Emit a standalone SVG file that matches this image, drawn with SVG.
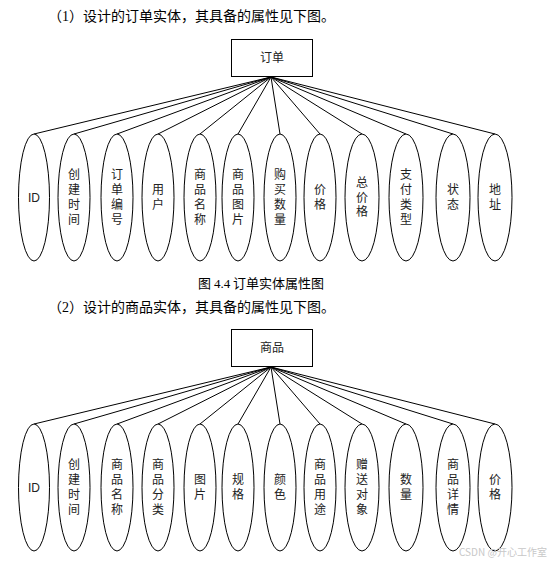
<svg xmlns="http://www.w3.org/2000/svg" width="549" height="564" viewBox="0 0 549 564">
<style>
.bg{fill:#fff}
.box{fill:#fff;stroke:#000;stroke-width:1}
.ell{fill:#fff;stroke:#000;stroke-width:1}
.con line{stroke:#000;stroke-width:1}
.t{font-family:"Liberation Sans","Noto Sans CJK SC",sans-serif;font-size:12px;fill:#222;text-anchor:middle;dominant-baseline:central}
.h{font-family:"Noto Sans CJK SC","Liberation Sans",sans-serif;font-size:14px;fill:#000}
.n{font-family:"Liberation Serif",serif}
.cap{font-family:"Noto Sans CJK SC","Liberation Sans",sans-serif;font-size:13px;fill:#000;text-anchor:middle}
.wm{font-family:"Noto Sans CJK SC","Liberation Sans",sans-serif;font-size:10px;fill:#c8c8c8}
</style>
<rect class="bg" x="0" y="0" width="549" height="564"/>
<text class="h" x="48" y="21">（<tspan class="n">1</tspan>）设计的订单实体，其具备的属性见下图。</text>

<g id="conn1" class="con">
<line x1="271" y1="77" x2="34" y2="134"/>
<line x1="271" y1="77" x2="74" y2="134"/>
<line x1="271" y1="77" x2="117" y2="134"/>
<line x1="271" y1="77" x2="158" y2="134"/>
<line x1="271" y1="77" x2="200" y2="134"/>
<line x1="271" y1="77" x2="238" y2="134"/>
<line x1="271" y1="77" x2="280" y2="134"/>
<line x1="271" y1="77" x2="320" y2="134"/>
<line x1="271" y1="77" x2="362" y2="134"/>
<line x1="271" y1="77" x2="406" y2="134"/>
<line x1="271" y1="77" x2="453" y2="134"/>
<line x1="271" y1="77" x2="495" y2="134"/>
</g>
<g id="order"><rect class="box" x="231.5" y="39.5" width="81" height="37"/><text class="t" x="272" y="58">订单</text></g>
<g id="o-id"><ellipse class="ell" cx="34" cy="197.5" rx="15.5" ry="63.5"/><text class="t" x="34" y="197.5">ID</text></g>
<g id="o-ctime"><ellipse class="ell" cx="74" cy="197.5" rx="16" ry="63.5"/><text class="t" x="74" y="175">创</text><text class="t" x="74" y="190">建</text><text class="t" x="74" y="205">时</text><text class="t" x="74" y="220">间</text></g>
<g id="o-no"><ellipse class="ell" cx="117" cy="197.5" rx="16" ry="63.5"/><text class="t" x="117" y="175">订</text><text class="t" x="117" y="190">单</text><text class="t" x="117" y="205">编</text><text class="t" x="117" y="220">号</text></g>
<g id="o-user"><ellipse class="ell" cx="158" cy="197.5" rx="16" ry="63.5"/><text class="t" x="158" y="190">用</text><text class="t" x="158" y="205">户</text></g>
<g id="o-gname"><ellipse class="ell" cx="200" cy="197.5" rx="16" ry="63.5"/><text class="t" x="200" y="175">商</text><text class="t" x="200" y="190">品</text><text class="t" x="200" y="205">名</text><text class="t" x="200" y="220">称</text></g>
<g id="o-gpic"><ellipse class="ell" cx="238" cy="197.5" rx="16" ry="63.5"/><text class="t" x="238" y="175">商</text><text class="t" x="238" y="190">品</text><text class="t" x="238" y="205">图</text><text class="t" x="238" y="220">片</text></g>
<g id="o-qty"><ellipse class="ell" cx="280" cy="197.5" rx="16" ry="63.5"/><text class="t" x="280" y="175">购</text><text class="t" x="280" y="190">买</text><text class="t" x="280" y="205">数</text><text class="t" x="280" y="220">量</text></g>
<g id="o-price"><ellipse class="ell" cx="320" cy="197.5" rx="16" ry="63.5"/><text class="t" x="320" y="190">价</text><text class="t" x="320" y="205">格</text></g>
<g id="o-total"><ellipse class="ell" cx="362" cy="197.5" rx="17" ry="63.5"/><text class="t" x="362" y="183">总</text><text class="t" x="362" y="197.5">价</text><text class="t" x="362" y="212">格</text></g>
<g id="o-pay"><ellipse class="ell" cx="406" cy="197.5" rx="17" ry="63.5"/><text class="t" x="406" y="175">支</text><text class="t" x="406" y="190">付</text><text class="t" x="406" y="205">类</text><text class="t" x="406" y="220">型</text></g>
<g id="o-state"><ellipse class="ell" cx="453" cy="197.5" rx="17" ry="63.5"/><text class="t" x="453" y="190">状</text><text class="t" x="453" y="205">态</text></g>
<g id="o-addr"><ellipse class="ell" cx="495" cy="197.5" rx="17" ry="63.5"/><text class="t" x="495" y="190">地</text><text class="t" x="495" y="205">址</text></g>

<text class="cap" x="261" y="288">图 <tspan class="n">4.4</tspan> 订单实体属性图</text>
<text class="h" x="48" y="312">（<tspan class="n">2</tspan>）设计的商品实体，其具备的属性见下图。</text>

<g id="conn2" class="con">
<line x1="271" y1="367" x2="34" y2="424"/>
<line x1="271" y1="367" x2="74" y2="424"/>
<line x1="271" y1="367" x2="117" y2="424"/>
<line x1="271" y1="367" x2="158" y2="424"/>
<line x1="271" y1="367" x2="200" y2="424"/>
<line x1="271" y1="367" x2="238" y2="424"/>
<line x1="271" y1="367" x2="280" y2="424"/>
<line x1="271" y1="367" x2="320" y2="424"/>
<line x1="271" y1="367" x2="362" y2="424"/>
<line x1="271" y1="367" x2="406" y2="424"/>
<line x1="271" y1="367" x2="453" y2="424"/>
<line x1="271" y1="367" x2="495" y2="424"/>
</g>
<g id="goods"><rect class="box" x="231.5" y="329.5" width="81" height="37"/><text class="t" x="272" y="348">商品</text></g>
<g id="g-id"><ellipse class="ell" cx="34" cy="487.5" rx="15.5" ry="63.5"/><text class="t" x="34" y="487.5">ID</text></g>
<g id="g-ctime"><ellipse class="ell" cx="74" cy="487.5" rx="16" ry="63.5"/><text class="t" x="74" y="465">创</text><text class="t" x="74" y="480">建</text><text class="t" x="74" y="495">时</text><text class="t" x="74" y="510">间</text></g>
<g id="g-name"><ellipse class="ell" cx="117" cy="487.5" rx="16" ry="63.5"/><text class="t" x="117" y="465">商</text><text class="t" x="117" y="480">品</text><text class="t" x="117" y="495">名</text><text class="t" x="117" y="510">称</text></g>
<g id="g-cat"><ellipse class="ell" cx="158" cy="487.5" rx="16" ry="63.5"/><text class="t" x="158" y="465">商</text><text class="t" x="158" y="480">品</text><text class="t" x="158" y="495">分</text><text class="t" x="158" y="510">类</text></g>
<g id="g-pic"><ellipse class="ell" cx="200" cy="487.5" rx="16" ry="63.5"/><text class="t" x="200" y="480">图</text><text class="t" x="200" y="495">片</text></g>
<g id="g-spec"><ellipse class="ell" cx="238" cy="487.5" rx="16" ry="63.5"/><text class="t" x="238" y="480">规</text><text class="t" x="238" y="495">格</text></g>
<g id="g-color"><ellipse class="ell" cx="280" cy="487.5" rx="16" ry="63.5"/><text class="t" x="280" y="480">颜</text><text class="t" x="280" y="495">色</text></g>
<g id="g-use"><ellipse class="ell" cx="320" cy="487.5" rx="16" ry="63.5"/><text class="t" x="320" y="465">商</text><text class="t" x="320" y="480">品</text><text class="t" x="320" y="495">用</text><text class="t" x="320" y="510">途</text></g>
<g id="g-gift"><ellipse class="ell" cx="362" cy="487.5" rx="17" ry="63.5"/><text class="t" x="362" y="465">赠</text><text class="t" x="362" y="480">送</text><text class="t" x="362" y="495">对</text><text class="t" x="362" y="510">象</text></g>
<g id="g-qty"><ellipse class="ell" cx="406" cy="487.5" rx="17" ry="63.5"/><text class="t" x="406" y="480">数</text><text class="t" x="406" y="495">量</text></g>
<g id="g-detail"><ellipse class="ell" cx="453" cy="487.5" rx="17" ry="63.5"/><text class="t" x="453" y="465">商</text><text class="t" x="453" y="480">品</text><text class="t" x="453" y="495">详</text><text class="t" x="453" y="510">情</text></g>
<g id="g-price"><ellipse class="ell" cx="495" cy="487.5" rx="17" ry="63.5"/><text class="t" x="495" y="480">价</text><text class="t" x="495" y="495">格</text></g>

<text class="wm" x="459" y="556">CSDN @开心工作室</text>
</svg>
